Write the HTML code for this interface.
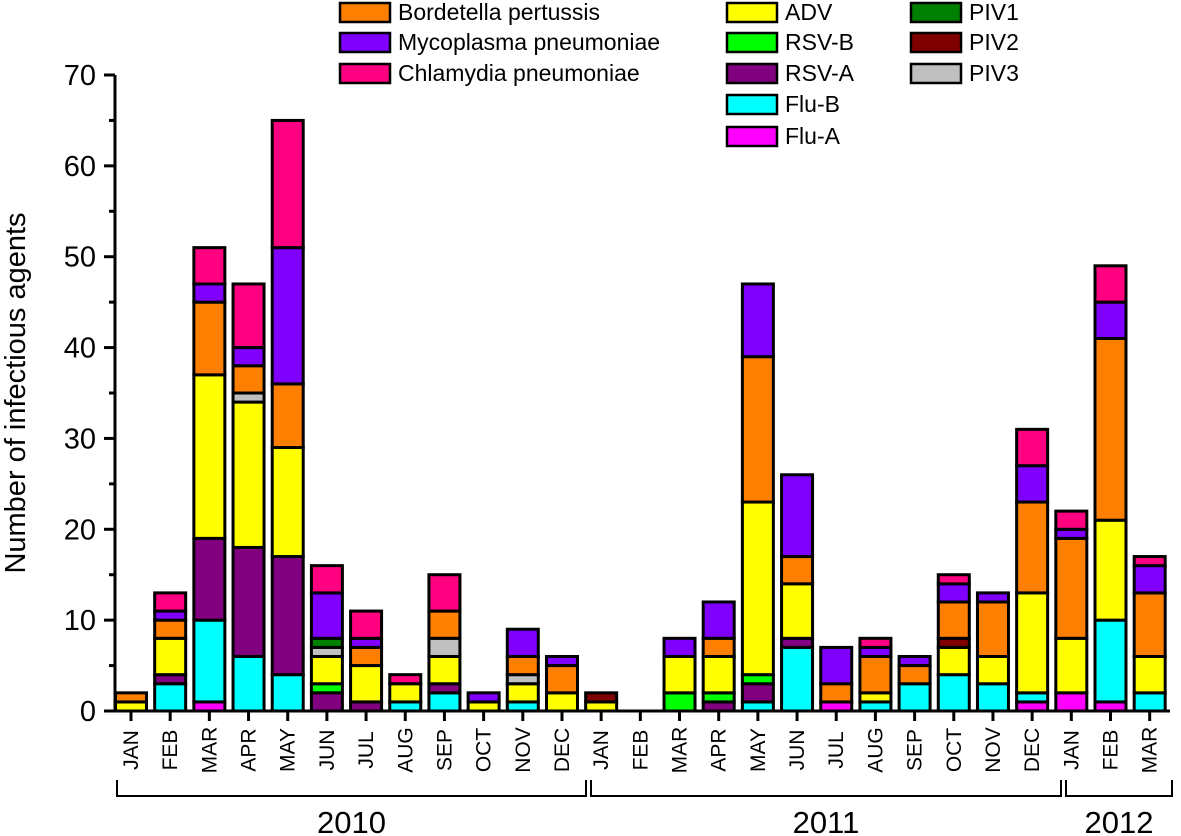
<!DOCTYPE html>
<html><head><meta charset="utf-8"><style>
body{margin:0;background:#fff}
svg{display:block;font-family:"Liberation Sans",Arial,sans-serif}
</style></head><body>
<svg id="chart" width="1181" height="836" viewBox="0 0 1181 836" xmlns="http://www.w3.org/2000/svg">
<g id="legend"></g>
<g id="axes"></g>
<g id="bars"></g>
<text x="0" y="0" transform="translate(25,393) rotate(-90)" text-anchor="middle" font-size="29">Number of infectious agents</text>
</svg>
<script>
const months = ["JAN","FEB","MAR","APR","MAY","JUN","JUL","AUG","SEP","OCT","NOV","DEC","JAN","FEB","MAR","APR","MAY","JUN","JUL","AUG","SEP","OCT","NOV","DEC","JAN","FEB","MAR"];
const seriesNames = ["Flu-A","Flu-B","RSV-A","RSV-B","ADV","PIV3","PIV1","PIV2","Bordetella pertussis","Mycoplasma pneumoniae","Chlamydia pneumoniae"];
const fluA  = [0,0,1,0,0,0,0,0,0,0,0,0, 0,0,0,0,0,0,1,0,0,0,0,1, 2,1,0];
const fluB  = [0,3,9,6,4,0,0,1,2,0,1,0, 0,0,0,0,1,7,0,1,3,4,3,1, 0,9,2];
const rsvA  = [0,1,9,12,13,2,1,0,1,0,0,0, 0,0,0,1,2,1,0,0,0,0,0,0, 0,0,0];
const rsvB  = [0,0,0,0,0,1,0,0,0,0,0,0, 0,0,2,1,1,0,0,0,0,0,0,0, 0,0,0];
const adv   = [1,4,18,16,12,3,4,2,3,1,2,2, 1,0,4,4,19,6,0,1,0,3,3,11, 6,11,4];
const piv3  = [0,0,0,1,0,1,0,0,2,0,1,0, 0,0,0,0,0,0,0,0,0,0,0,0, 0,0,0];
const piv1  = [0,0,0,0,0,1,0,0,0,0,0,0, 0,0,0,0,0,0,0,0,0,0,0,0, 0,0,0];
const piv2  = [0,0,0,0,0,0,0,0,0,0,0,0, 1,0,0,0,0,0,0,0,0,1,0,0, 0,0,0];
const bord  = [1,2,8,3,7,0,2,0,3,0,2,3, 0,0,0,2,16,3,2,4,2,4,6,10, 11,20,7];
const myco  = [0,1,2,2,15,5,1,0,0,1,3,1, 0,0,2,4,8,9,4,1,1,2,1,4, 1,4,3];
const chlam = [0,2,4,7,14,3,3,1,4,0,0,0, 0,0,0,0,0,0,0,1,0,1,0,4, 2,4,1];
const yTicks = [0,10,20,30,40,50,60,70];
const years = ["2010","2011","2012"];

const stack = [fluA,fluB,rsvA,rsvB,adv,piv3,piv1,piv2,bord,myco,chlam];
const colors = ["#ff00ff","#00ffff","#800080","#00ff00","#ffff00","#c0c0c0","#008000","#800000","#ff8000","#8000ff","#ff0080"];
const NS="http://www.w3.org/2000/svg";
const y0=711, yTop=75, yMax=70;
const yScale=v=>y0-(v/yMax)*(y0-yTop);
const xScale=i=>131+i*39.18;
const bw=31;
function mk(tag,attrs,parent){const e=document.createElementNS(NS,tag);for(const k in attrs)e.setAttribute(k,attrs[k]);parent.appendChild(e);return e;}
const axes=document.getElementById('axes'), bars=document.getElementById('bars'), legend=document.getElementById('legend');

months.forEach((m,i)=>{
  let cum=0;
  stack.forEach((arr,s)=>{
    const v=arr[i]; if(!v) return;
    const r=mk('rect',{x:xScale(i)-bw/2,y:yScale(cum+v),width:bw,height:yScale(cum)-yScale(cum+v),fill:colors[s],stroke:'#000','stroke-width':3},bars);
    
    
    cum+=v;
  });
});

mk('line',{x1:115,y1:yTop,x2:115,y2:y0,stroke:'#000','stroke-width':3},axes);
for(let v=0;v<=70;v+=5){
  const major=v%10===0;
  mk('line',{x1:major?104:109,y1:yScale(v),x2:115,y2:yScale(v),stroke:'#000','stroke-width':3},axes);
}
yTicks.forEach(v=>{
  const t=mk('text',{x:96,y:yScale(v)+10,'text-anchor':'end','font-size':29},axes);
  
  
  t.textContent=v;
});
mk('line',{x1:115,y1:y0,x2:1170,y2:y0,stroke:'#000','stroke-width':3},axes);
months.forEach((m,i)=>{
  mk('line',{x1:xScale(i),y1:y0,x2:xScale(i),y2:y0+10,stroke:'#000','stroke-width':3},axes);
  const t=mk('text',{x:0,y:0,transform:`translate(${xScale(i)+7},750) rotate(-90)`,'text-anchor':'middle','font-size':21},axes);
  
  
  t.textContent=m;
});
const brackets=[[117,586],[591,1061],[1066,1172]];
years.forEach((yr,k)=>{
  const [a,b]=brackets[k];
  mk('path',{d:`M${a} 780 V796 H${b} V780`,fill:'none',stroke:'#000','stroke-width':2},axes);
  const t=mk('text',{x:(a+b)/2,y:833,'text-anchor':'middle','font-size':31},axes);
  
  
  t.textContent=yr;
});
const legendItems=[[8,340,12],[9,340,42],[10,340,73],[4,727,12],[3,727,42],[2,727,73],[1,727,104],[0,727,136],[6,911,12],[7,911,42],[5,911,73]];
legendItems.forEach(([s,x,y])=>{
  const g=mk('g',{},legend);
  
  
  mk('rect',{x:x,y:y-9,width:50,height:19,fill:colors[s],stroke:'#000','stroke-width':2.5},g);
  const t=mk('text',{x:x+58,y:y+8,'font-size':23},g);
  t.textContent=seriesNames[s];
});
</script>
</body></html>
